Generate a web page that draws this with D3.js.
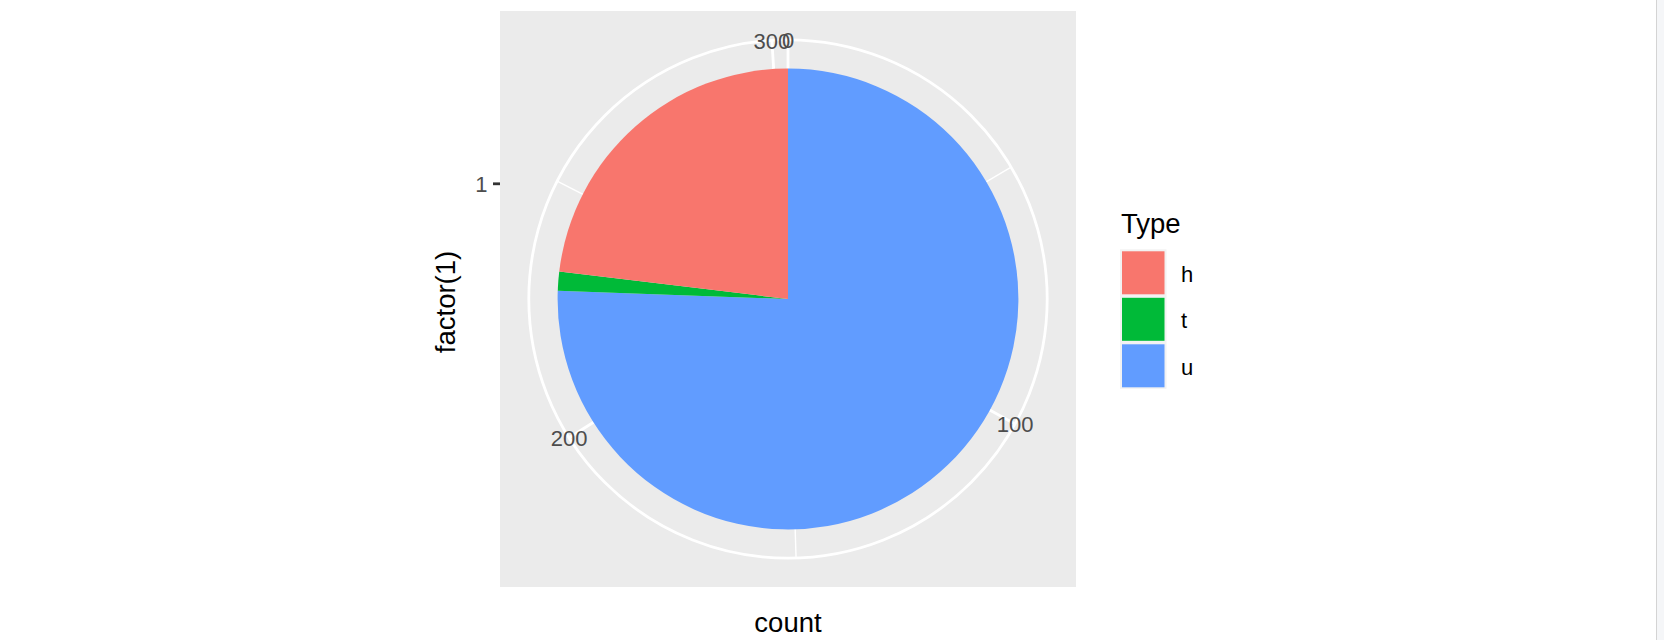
<!DOCTYPE html>
<html lang="en">
<head>
    <meta charset="UTF-8">
    <title>Pie of Type counts</title>
    <style>
        html, body { margin: 0; padding: 0; background: #fff; }
        svg { display: block; }
        text { font-family: "Liberation Sans", Arial, Helvetica, sans-serif; }
    </style>
</head>
<body>
    <div class="chart"></div>

    <script src="https://d3js.org/d3.v7.min.js"></script>
    <script>
        // data
        var types = ["h", "t", "u"]
        var counts = [70, 4, 229]
        var colors = ["#F8766D", "#00BA38", "#619CFF"]
        var thetaBreaks = [0, 100, 200, 300]
        var thetaMinor = [50, 150, 250]
        var rBreaks = ["1"]

        var width = 1664
        var height = 640

        // panel geometry (square panel like ggplot coord_polar)
        var px = 500, py = 11, size = 576
        var cx = px + size / 2, cy = py + size / 2

        var total = d3.sum(counts)

        var theta = d3.scaleLinear().domain([0, total]).range([0, 2 * Math.PI])
        // discrete x "1" with width 1 -> [0.5, 1.5] mapped to [0, 0.4]
        var rScale = d3.scaleLinear().domain([0.5, 1.5]).range([0, 0.4 * size])
        var outer = 0.45 * size

        var svg = d3.select(".chart").append("svg")
            .attr("width", width)
            .attr("height", height)

        // panel background
        svg.append("rect")
            .attr("x", px).attr("y", py)
            .attr("width", size).attr("height", size)
            .attr("fill", "#EBEBEB")

        var g = svg.append("g").attr("transform", "translate(" + cx + "," + cy + ")")

        function spoke(v) {
            var a = theta(v)
            return [[0, 0], [outer * Math.sin(a), -outer * Math.cos(a)]]
        }
        var line = d3.line()

        g.selectAll(".major")
            .data(thetaBreaks)
            .enter().append("path")
            .attr("d", function(d) { return line(spoke(d)) })
            .attr("stroke", "#fff").attr("stroke-width", 2.8).attr("fill", "none")

        g.selectAll(".minor")
            .data(thetaMinor)
            .enter().append("path")
            .attr("d", function(d) { return line(spoke(d)) })
            .attr("stroke", "#fff").attr("stroke-width", 1.4).attr("fill", "none")

        // radius grid circles (x = 1 and the outer ring)
        g.selectAll(".ring")
            .data(rBreaks.map(function(d) { return rScale(+d) }).concat([outer]))
            .enter().append("circle")
            .attr("r", function(d) { return d })
            .attr("fill", "none").attr("stroke", "#fff").attr("stroke-width", 2.8)

        // stacked bar: last level at the bottom (starts at 0)
        var stacked = []
        var acc = 0
        for (var i = types.length - 1; i >= 0; i--) {
            stacked.push({ type: types[i], color: colors[i], y0: acc, y1: acc + counts[i] })
            acc += counts[i]
        }

        var arc = d3.arc()
            .innerRadius(rScale(0.5))
            .outerRadius(rScale(1.5))
            .startAngle(function(d) { return theta(d.y0) })
            .endAngle(function(d) { return theta(d.y1) })

        g.selectAll(".slice")
            .data(stacked)
            .enter().append("path")
            .attr("d", arc)
            .attr("fill", function(d) { return d.color })

        // theta labels, centred on the outer ring
        g.selectAll(".tlab")
            .data(thetaBreaks)
            .enter().append("text")
            .attr("x", function(d) { return outer * Math.sin(theta(d)) })
            .attr("y", function(d) { return -outer * Math.cos(theta(d)) + 8.5 })
            .attr("text-anchor", "middle")
            .attr("font-size", 22)
            .attr("fill", "#4D4D4D")
            .text(function(d) { return d })

        // r axis on the left
        rBreaks.forEach(function(b) {
            var y = cy - rScale(+b)
            svg.append("line")
                .attr("x1", px - 7).attr("x2", px)
                .attr("y1", y).attr("y2", y)
                .attr("stroke", "#333").attr("stroke-width", 2.8)
            svg.append("text")
                .attr("x", px - 12.5).attr("y", y + 7.9)
                .attr("text-anchor", "end")
                .attr("font-size", 22)
                .attr("fill", "#4D4D4D")
                .text(b)
        })

        // axis titles
        svg.append("text")
            .attr("x", cx).attr("y", 632)
            .attr("text-anchor", "middle")
            .attr("font-size", 27.5)
            .text("count")

        svg.append("text")
            .attr("transform", "translate(455," + (cy + 3) + ") rotate(-90)")
            .attr("text-anchor", "middle")
            .attr("font-size", 27.5)
            .text("factor(1)")

        // legend
        var lx = 1120, ly = 249.3, key = 46.5
        var legend = svg.append("g")
        legend.append("text")
            .attr("x", lx + 1).attr("y", 233)
            .attr("font-size", 27.5)
            .text("Type")
        legend.append("rect")
            .attr("x", lx).attr("y", ly)
            .attr("width", key).attr("height", key * types.length)
            .attr("fill", "#F2F2F2")
        legend.selectAll(".key")
            .data(types)
            .enter().append("rect")
            .attr("x", lx + 2).attr("y", function(d, i) { return ly + i * key + 2 })
            .attr("width", key - 4).attr("height", key - 3.5)
            .attr("fill", function(d, i) { return colors[i] })
        legend.selectAll(".klab")
            .data(types)
            .enter().append("text")
            .attr("x", lx + 61).attr("y", function(d, i) { return ly + i * key + key / 2 + 9 })
            .attr("font-size", 22)
            .text(function(d) { return d })

        // thin frame strip at the right edge of the picture
        svg.append("rect")
            .attr("x", 1656).attr("y", 0)
            .attr("width", 8).attr("height", height)
            .attr("fill", "#F5F6F8")
        svg.append("line")
            .attr("x1", 1656.5).attr("x2", 1656.5)
            .attr("y1", 0).attr("y2", height)
            .attr("stroke", "#D4D4D4").attr("stroke-width", 1)
    </script>
</body>
</html>
